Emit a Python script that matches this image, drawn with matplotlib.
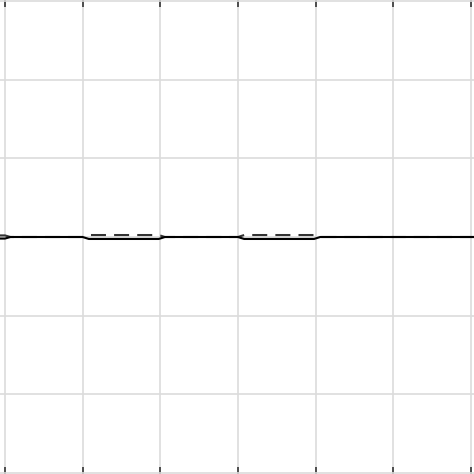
import numpy as np
import matplotlib
matplotlib.use('Agg')
import matplotlib.pyplot as plt

# solid curve: dips slightly below zero where the two branches split
solid_x = [-0.2, 0.0, 0.07, 1.0, 1.08, 1.98, 2.06, 3.0, 3.08, 3.98, 4.06, 6.2]
solid_y = [-0.02, -0.02, 0.0, 0.0, -0.025, -0.025, 0.0, 0.0, -0.025, -0.025, 0.0, 0.0]

# dashed curve: rises slightly above zero on the same intervals
dash_x = [-0.2, 0.0, 0.07, 1.0, 1.08, 1.98, 2.06, 3.0, 3.08, 3.98, 4.06, 6.2]
dash_y = [0.02, 0.02, 0.0, 0.0, 0.025, 0.025, 0.0, 0.0, 0.025, 0.025, 0.0, 0.0]

xticks = [0, 1, 2, 3, 4, 5, 6]
yticks = [-3, -2, -1, 0, 1, 2, 3]


def main():
    fig = plt.figure(figsize=(4.74, 4.74), dpi=100)
    ax = fig.add_axes([0, 0, 1, 1])

    ax.plot(dash_x, dash_y, color='#333333', lw=1.5, dashes=(7.2, 3.9))
    ax.plot(solid_x, solid_y, color='black', lw=1.5)

    ax.set_xticks(xticks)
    ax.set_yticks(yticks)
    ax.set_xlim(-0.064, 6.04)
    ax.set_ylim(-3.01, 3.01)
    ax.grid(True, color='#dcdcdc', lw=1.2)
    ax.set_axisbelow(True)
    for s in ax.spines.values():
        s.set_visible(False)
    ax.tick_params(axis='x', direction='in', top=True, bottom=True, length=5,
                   width=1.2, color='#333333', labelbottom=False)
    ax.tick_params(axis='y', left=False, labelleft=False)

    fig.savefig('out.png', dpi=100)


if __name__ == '__main__':
    main()
